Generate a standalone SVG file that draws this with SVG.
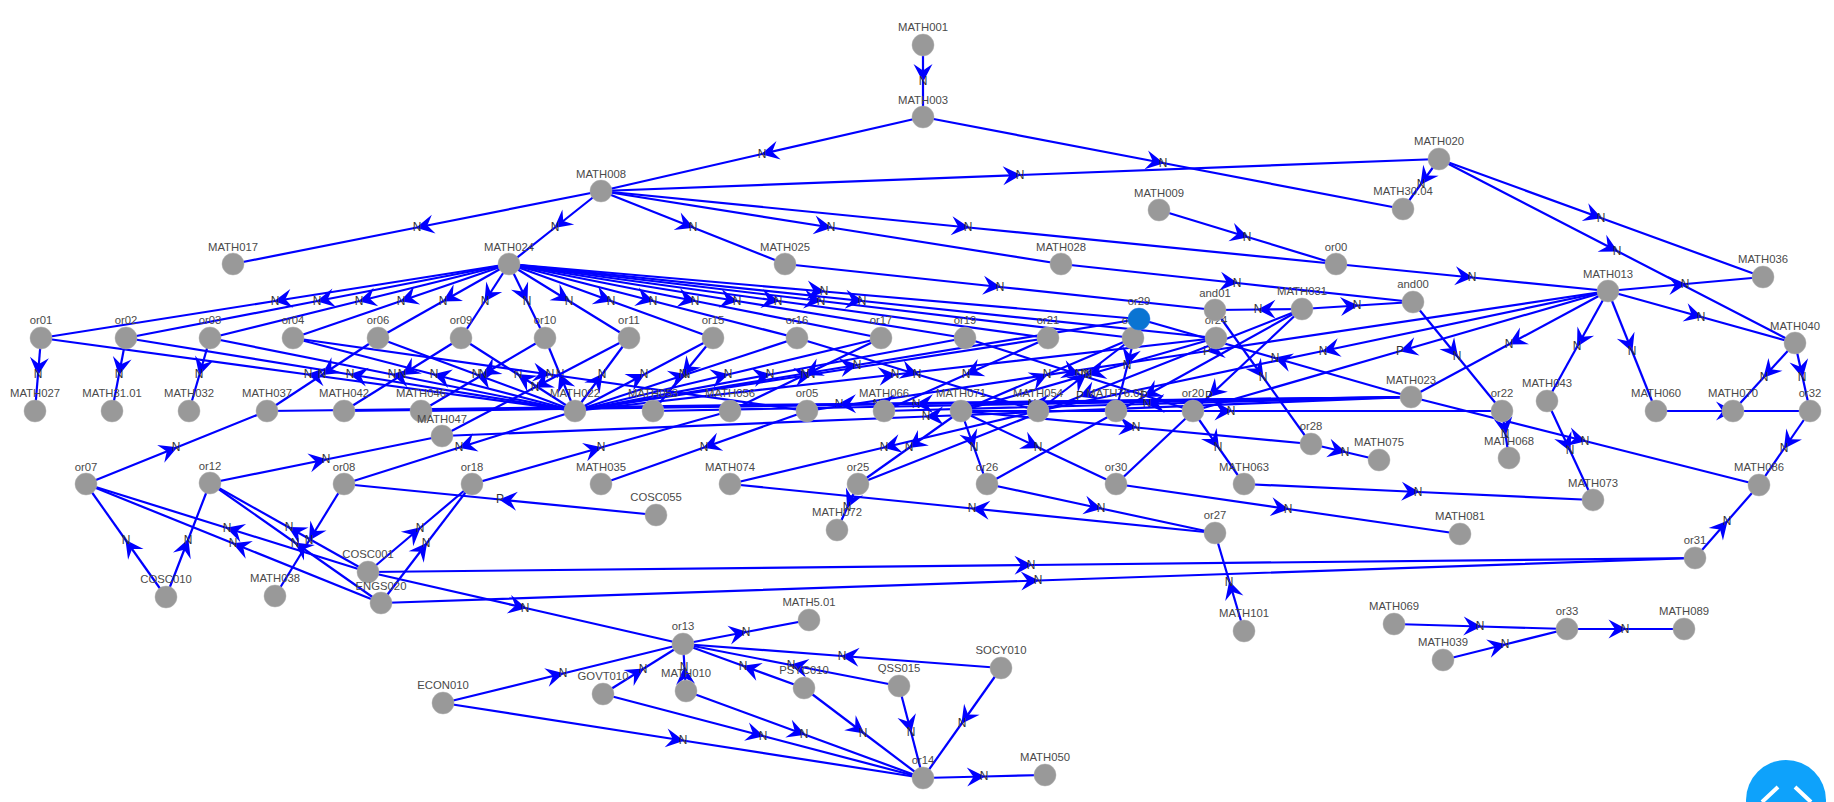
<svg xmlns="http://www.w3.org/2000/svg" width="1834" height="802" viewBox="0 0 1834 802">
<style>
text{font-family:"Liberation Sans",Arial,sans-serif;fill:#4a4a4a;text-anchor:middle}
.t{font-size:11.3px}
.l{font-size:12px;fill:#343434}
circle.n{fill:#999;stroke:#b0b0b0;stroke-width:.5}
polyline{fill:none;stroke:#0000ff;stroke-width:2.2;marker-mid:url(#v)}
</style>
<defs><marker id="v" markerUnits="userSpaceOnUse" markerWidth="24" markerHeight="24" refX="19" refY="11" orient="auto" overflow="visible"><polygon points="20,11 2,1.5 8.5,11 2,20.5" fill="#0000ff"/></marker></defs>
<rect width="1834" height="802" fill="#fff"/>
<g id="connectors">
<polyline points="923,45 923,81 923,117"/><text class="l" x="923" y="85">N</text>
<polyline points="923,117 762,154 601,191"/><text class="l" x="762" y="158">N</text>
<polyline points="923,117 1163,163 1403,209"/><text class="l" x="1163" y="167">N</text>
<polyline points="601,191 1020,175 1439,159"/><text class="l" x="1020" y="179">N</text>
<polyline points="601,191 417,227.5 233,264"/><text class="l" x="417" y="231">N</text>
<polyline points="601,191 555,227.5 509,264"/><text class="l" x="555" y="231">N</text>
<polyline points="601,191 693,227.5 785,264"/><text class="l" x="693" y="231">N</text>
<polyline points="601,191 831,227.5 1061,264"/><text class="l" x="831" y="231">N</text>
<polyline points="601,191 968.5,227.5 1336,264"/><text class="l" x="968" y="231">N</text>
<polyline points="1159,210 1247.5,237 1336,264"/><text class="l" x="1247" y="241">N</text>
<polyline points="1439,159 1421,184 1403,209"/><text class="l" x="1421" y="188">N</text>
<polyline points="1439,159 1617,251 1795,343"/><text class="l" x="1617" y="255">N</text>
<polyline points="1439,159 1601,218 1763,277"/><text class="l" x="1601" y="222">N</text>
<polyline points="785,264 1000,287 1215,310"/><text class="l" x="1000" y="291">N</text>
<polyline points="1061,264 1237,283 1413,302"/><text class="l" x="1237" y="287">N</text>
<polyline points="1336,264 1472,277.5 1608,291"/><text class="l" x="1472" y="281">N</text>
<polyline points="1608,291 1685.5,284 1763,277"/><text class="l" x="1685" y="288">N</text>
<polyline points="1608,291 1701.5,317 1795,343"/><text class="l" x="1701" y="321">N</text>
<polyline points="1608,291 1577.5,346 1547,401"/><text class="l" x="1577" y="350">N</text>
<polyline points="1608,291 1632,351 1656,411"/><text class="l" x="1632" y="355">N</text>
<polyline points="1608,291 1509.5,344 1411,397"/><text class="l" x="1509" y="348">N</text>
<polyline points="1608,291 1400.5,351 1193,411"/><text class="l" x="1400" y="355">P</text>
<polyline points="1608,291 1323,351 1038,411"/><text class="l" x="1323" y="355">N</text>
<polyline points="1608,291 1207.5,351 807,411"/><text class="l" x="1207" y="355">P</text>
<polyline points="509,264 275,301 41,338"/><text class="l" x="275" y="305">N</text>
<polyline points="509,264 317.5,301 126,338"/><text class="l" x="317" y="305">N</text>
<polyline points="509,264 359.5,301 210,338"/><text class="l" x="359" y="305">N</text>
<polyline points="509,264 401,301 293,338"/><text class="l" x="401" y="305">N</text>
<polyline points="509,264 443.5,301 378,338"/><text class="l" x="443" y="305">N</text>
<polyline points="509,264 485,301 461,338"/><text class="l" x="485" y="305">N</text>
<polyline points="509,264 527,301 545,338"/><text class="l" x="527" y="305">N</text>
<polyline points="509,264 569,301 629,338"/><text class="l" x="569" y="305">N</text>
<polyline points="509,264 611,301 713,338"/><text class="l" x="611" y="305">N</text>
<polyline points="509,264 653,301 797,338"/><text class="l" x="653" y="305">N</text>
<polyline points="509,264 695,301 881,338"/><text class="l" x="695" y="305">N</text>
<polyline points="509,264 737,301 965,338"/><text class="l" x="737" y="305">N</text>
<polyline points="509,264 778.5,301 1048,338"/><text class="l" x="778" y="305">N</text>
<polyline points="509,264 821,301 1133,338"/><text class="l" x="821" y="305">N</text>
<polyline points="509,264 862.5,301 1216,338"/><text class="l" x="862" y="305">N</text>
<polyline points="509,264 824,291.5 1139,319"/><text class="l" x="824" y="295">N</text>
<polyline points="41,338 38,374.5 35,411"/><text class="l" x="38" y="378">N</text>
<polyline points="126,338 119,374.5 112,411"/><text class="l" x="119" y="378">N</text>
<polyline points="210,338 199.5,374.5 189,411"/><text class="l" x="199" y="378">N</text>
<polyline points="575,411 308,374.5 41,338"/><text class="l" x="308" y="378">N</text>
<polyline points="575,411 350.5,374.5 126,338"/><text class="l" x="350" y="378">N</text>
<polyline points="575,411 392.5,374.5 210,338"/><text class="l" x="392" y="378">N</text>
<polyline points="575,411 434,374.5 293,338"/><text class="l" x="434" y="378">N</text>
<polyline points="575,411 476.5,374.5 378,338"/><text class="l" x="476" y="378">N</text>
<polyline points="575,411 518,374.5 461,338"/><text class="l" x="518" y="378">N</text>
<polyline points="575,411 560,374.5 545,338"/><text class="l" x="560" y="378">N</text>
<polyline points="575,411 602,374.5 629,338"/><text class="l" x="602" y="378">N</text>
<polyline points="575,411 644,374.5 713,338"/><text class="l" x="644" y="378">N</text>
<polyline points="575,411 686,374.5 797,338"/><text class="l" x="686" y="378">N</text>
<polyline points="575,411 728,374.5 881,338"/><text class="l" x="728" y="378">N</text>
<polyline points="575,411 770,374.5 965,338"/><text class="l" x="770" y="378">N</text>
<polyline points="575,411 811.5,374.5 1048,338"/><text class="l" x="811" y="378">N</text>
<polyline points="575,411 895.5,374.5 1216,338"/><text class="l" x="895" y="378">N</text>
<polyline points="575,411 857,365 1139,319"/><text class="l" x="857" y="369">N</text>
<polyline points="293,338 550,374.5 807,411"/><text class="l" x="550" y="378">N</text>
<polyline points="378,338 322.5,374.5 267,411"/><text class="l" x="322" y="378">N</text>
<polyline points="461,338 402.5,374.5 344,411"/><text class="l" x="402" y="378">N</text>
<polyline points="545,338 483,374.5 421,411"/><text class="l" x="483" y="378">N</text>
<polyline points="629,338 535.5,387 442,436"/><text class="l" x="535" y="391">N</text>
<polyline points="713,338 683,374.5 653,411"/><text class="l" x="683" y="378">N</text>
<polyline points="797,338 917.5,374.5 1038,411"/><text class="l" x="917" y="378">N</text>
<polyline points="881,338 805.5,374.5 730,411"/><text class="l" x="805" y="378">N</text>
<polyline points="965,338 1079,374.5 1193,411"/><text class="l" x="1079" y="378">N</text>
<polyline points="1048,338 966,374.5 884,411"/><text class="l" x="966" y="378">N</text>
<polyline points="961,411 1047,374.5 1133,338"/><text class="l" x="1047" y="378">N</text>
<polyline points="1038,411 1085.5,374.5 1133,338"/><text class="l" x="1085" y="378">N</text>
<polyline points="1216,338 1088.5,374.5 961,411"/><text class="l" x="1088" y="378">N</text>
<polyline points="1139,319 1127.5,365 1116,411"/><text class="l" x="1127" y="369">N</text>
<polyline points="1411,397 1275,358 1139,319"/><text class="l" x="1275" y="362">N</text>
<polyline points="1302,309 1258.5,309.5 1215,310"/><text class="l" x="1258" y="313">N</text>
<polyline points="1302,309 1357.5,305.5 1413,302"/><text class="l" x="1357" y="309">N</text>
<polyline points="1413,302 1457.5,356.5 1502,411"/><text class="l" x="1457" y="360">N</text>
<polyline points="1215,310 1263,377 1311,444"/><text class="l" x="1263" y="381">N</text>
<polyline points="1311,444 1345,452 1379,460"/><text class="l" x="1345" y="456">N</text>
<polyline points="1502,411 1505.5,434.5 1509,458"/><text class="l" x="1505" y="438">N</text>
<polyline points="1547,401 1570,450.5 1593,500"/><text class="l" x="1570" y="454">N</text>
<polyline points="1411,397 1585,441 1759,485"/><text class="l" x="1585" y="445">N</text>
<polyline points="1795,343 1764,377 1733,411"/><text class="l" x="1764" y="381">N</text>
<polyline points="1795,343 1802.5,377 1810,411"/><text class="l" x="1802" y="381">N</text>
<polyline points="1810,411 1784.5,448 1759,485"/><text class="l" x="1784" y="452">N</text>
<polyline points="1656,411 1733,411 1810,411"/><text class="l" x="1733" y="415">N</text>
<polyline points="1695,558 1727,521.5 1759,485"/><text class="l" x="1727" y="525">N</text>
<polyline points="368,572 1031.5,565 1695,558"/><text class="l" x="1031" y="569">N</text>
<polyline points="381,603 1038,580.5 1695,558"/><text class="l" x="1038" y="584">N</text>
<polyline points="1244,484 1418.5,492 1593,500"/><text class="l" x="1418" y="496">N</text>
<polyline points="1116,484 1288,509 1460,534"/><text class="l" x="1288" y="513">N</text>
<polyline points="1244,631 1229.5,582 1215,533"/><text class="l" x="1229" y="586">N</text>
<polyline points="1394,624 1480.5,626.5 1567,629"/><text class="l" x="1480" y="630">N</text>
<polyline points="1443,660 1505,644.5 1567,629"/><text class="l" x="1505" y="648">N</text>
<polyline points="1567,629 1625.5,629 1684,629"/><text class="l" x="1625" y="633">N</text>
<polyline points="987,484 1101,508.5 1215,533"/><text class="l" x="1101" y="512">N</text>
<polyline points="1215,533 972.5,508.5 730,484"/><text class="l" x="972" y="512">N</text>
<polyline points="858,484 847.5,507 837,530"/><text class="l" x="847" y="511">N</text>
<polyline points="1302,309 1209,396.5 1116,484"/><text class="l" x="1209" y="400">P</text>
<polyline points="1302,309 1080,396.5 858,484"/><text class="l" x="1080" y="400">P</text>
<polyline points="1302,309 1144.5,396.5 987,484"/><text class="l" x="1144" y="400">P</text>
<polyline points="961,411 909.5,447.5 858,484"/><text class="l" x="909" y="451">N</text>
<polyline points="1038,411 884,447.5 730,484"/><text class="l" x="884" y="451">N</text>
<polyline points="961,411 974,447.5 987,484"/><text class="l" x="974" y="451">N</text>
<polyline points="961,411 1038.5,447.5 1116,484"/><text class="l" x="1038" y="451">N</text>
<polyline points="961,411 1136,427.5 1311,444"/><text class="l" x="1136" y="431">N</text>
<polyline points="961,411 1231.5,411 1502,411"/><text class="l" x="1231" y="415">N</text>
<polyline points="1411,397 839,404 267,411"/><text class="l" x="839" y="408">N</text>
<polyline points="1411,397 877.5,404 344,411"/><text class="l" x="877" y="408">N</text>
<polyline points="1411,397 916,404 421,411"/><text class="l" x="916" y="408">N</text>
<polyline points="1411,397 1032,404 653,411"/><text class="l" x="1032" y="408">N</text>
<polyline points="1411,397 1147.5,404 884,411"/><text class="l" x="1147" y="408">N</text>
<polyline points="1411,397 926.5,416.5 442,436"/><text class="l" x="926" y="420">N</text>
<polyline points="1193,411 1218.5,447.5 1244,484"/><text class="l" x="1218" y="451">N</text>
<polyline points="472,484 601,447.5 730,411"/><text class="l" x="601" y="451">N</text>
<polyline points="807,411 704,447.5 601,484"/><text class="l" x="704" y="451">N</text>
<polyline points="210,483 326,459.5 442,436"/><text class="l" x="326" y="463">N</text>
<polyline points="575,411 459.5,447.5 344,484"/><text class="l" x="459" y="451">N</text>
<polyline points="86,484 176.5,447.5 267,411"/><text class="l" x="176" y="451">N</text>
<polyline points="166,597 126,540.5 86,484"/><text class="l" x="126" y="544">N</text>
<polyline points="166,597 188,540 210,483"/><text class="l" x="188" y="544">N</text>
<polyline points="368,572 227,528 86,484"/><text class="l" x="227" y="532">N</text>
<polyline points="381,603 233.5,543.5 86,484"/><text class="l" x="233" y="547">N</text>
<polyline points="368,572 289,527.5 210,483"/><text class="l" x="289" y="531">N</text>
<polyline points="381,603 295.5,543 210,483"/><text class="l" x="295" y="547">N</text>
<polyline points="344,484 309.5,540 275,596"/><text class="l" x="309" y="544">N</text>
<polyline points="368,572 420,528 472,484"/><text class="l" x="420" y="532">N</text>
<polyline points="381,603 426.5,543.5 472,484"/><text class="l" x="426" y="547">N</text>
<polyline points="656,515 500,499.5 344,484"/><text class="l" x="500" y="503">P</text>
<polyline points="368,572 525.5,608 683,644"/><text class="l" x="525" y="612">N</text>
<polyline points="443,703 563,673.5 683,644"/><text class="l" x="563" y="677">N</text>
<polyline points="443,703 683,740.5 923,778"/><text class="l" x="683" y="744">N</text>
<polyline points="603,694 643,669 683,644"/><text class="l" x="643" y="673">N</text>
<polyline points="603,694 763,736 923,778"/><text class="l" x="763" y="740">N</text>
<polyline points="686,691 684.5,667.5 683,644"/><text class="l" x="684" y="671">N</text>
<polyline points="686,691 804.5,734.5 923,778"/><text class="l" x="804" y="738">N</text>
<polyline points="804,688 743.5,666 683,644"/><text class="l" x="743" y="670">N</text>
<polyline points="804,688 863.5,733 923,778"/><text class="l" x="863" y="737">N</text>
<polyline points="899,686 791,665 683,644"/><text class="l" x="791" y="669">N</text>
<polyline points="899,686 911,732 923,778"/><text class="l" x="911" y="736">N</text>
<polyline points="1001,668 842,656 683,644"/><text class="l" x="842" y="660">N</text>
<polyline points="1001,668 962,723 923,778"/><text class="l" x="962" y="727">N</text>
<polyline points="923,778 984,776.5 1045,775"/><text class="l" x="984" y="780">N</text>
<polyline points="683,644 746,632 809,620"/><text class="l" x="746" y="636">N</text>
</g>
<g id="nodes">
<g id="MATH001"><circle class="n" cx="923" cy="45" r="11"/><text class="t" x="923" y="31">MATH001</text></g>
<g id="MATH003"><circle class="n" cx="923" cy="117" r="11"/><text class="t" x="923" y="104">MATH003</text></g>
<g id="MATH008"><circle class="n" cx="601" cy="191" r="11"/><text class="t" x="601" y="178">MATH008</text></g>
<g id="MATH020"><circle class="n" cx="1439" cy="159" r="11"/><text class="t" x="1439" y="145">MATH020</text></g>
<g id="MATH30.04"><circle class="n" cx="1403" cy="209" r="11"/><text class="t" x="1403" y="195">MATH30.04</text></g>
<g id="MATH009"><circle class="n" cx="1159" cy="210" r="11"/><text class="t" x="1159" y="197">MATH009</text></g>
<g id="MATH017"><circle class="n" cx="233" cy="264" r="11"/><text class="t" x="233" y="251">MATH017</text></g>
<g id="MATH024"><circle class="n" cx="509" cy="264" r="11"/><text class="t" x="509" y="251">MATH024</text></g>
<g id="MATH025"><circle class="n" cx="785" cy="264" r="11"/><text class="t" x="785" y="251">MATH025</text></g>
<g id="MATH028"><circle class="n" cx="1061" cy="264" r="11"/><text class="t" x="1061" y="251">MATH028</text></g>
<g id="or00"><circle class="n" cx="1336" cy="264" r="11"/><text class="t" x="1336" y="251">or00</text></g>
<g id="MATH013"><circle class="n" cx="1608" cy="291" r="11"/><text class="t" x="1608" y="278">MATH013</text></g>
<g id="MATH036"><circle class="n" cx="1763" cy="277" r="11"/><text class="t" x="1763" y="263">MATH036</text></g>
<g id="MATH040"><circle class="n" cx="1795" cy="343" r="11"/><text class="t" x="1795" y="330">MATH040</text></g>
<g id="and00"><circle class="n" cx="1413" cy="302" r="11"/><text class="t" x="1413" y="288">and00</text></g>
<g id="MATH031"><circle class="n" cx="1302" cy="309" r="11"/><text class="t" x="1302" y="295">MATH031</text></g>
<g id="or01"><circle class="n" cx="41" cy="338" r="11"/><text class="t" x="41" y="324">or01</text></g>
<g id="or02"><circle class="n" cx="126" cy="338" r="11"/><text class="t" x="126" y="324">or02</text></g>
<g id="or03"><circle class="n" cx="210" cy="338" r="11"/><text class="t" x="210" y="324">or03</text></g>
<g id="or04"><circle class="n" cx="293" cy="338" r="11"/><text class="t" x="293" y="324">or04</text></g>
<g id="or06"><circle class="n" cx="378" cy="338" r="11"/><text class="t" x="378" y="324">or06</text></g>
<g id="or09"><circle class="n" cx="461" cy="338" r="11"/><text class="t" x="461" y="324">or09</text></g>
<g id="or10"><circle class="n" cx="545" cy="338" r="11"/><text class="t" x="545" y="324">or10</text></g>
<g id="or11"><circle class="n" cx="629" cy="338" r="11"/><text class="t" x="629" y="324">or11</text></g>
<g id="or15"><circle class="n" cx="713" cy="338" r="11"/><text class="t" x="713" y="324">or15</text></g>
<g id="or16"><circle class="n" cx="797" cy="338" r="11"/><text class="t" x="797" y="324">or16</text></g>
<g id="or17"><circle class="n" cx="881" cy="338" r="11"/><text class="t" x="881" y="324">or17</text></g>
<g id="or19"><circle class="n" cx="965" cy="338" r="11"/><text class="t" x="965" y="324">or19</text></g>
<g id="or21"><circle class="n" cx="1048" cy="338" r="11"/><text class="t" x="1048" y="324">or21</text></g>
<g id="or23"><circle class="n" cx="1133" cy="338" r="11"/><text class="t" x="1133" y="324">or23</text></g>
<g id="or24"><circle class="n" cx="1216" cy="338" r="11"/><text class="t" x="1216" y="324">or24</text></g>
<g id="or29"><circle cx="1139" cy="319" r="11" fill="#0a74d2" stroke="#2b7ce9" stroke-width=".5"/><text class="t" x="1139" y="305">or29</text></g>
<g id="and01"><circle class="n" cx="1215" cy="310" r="11"/><text class="t" x="1215" y="297">and01</text></g>
<g id="MATH027"><circle class="n" cx="35" cy="411" r="11"/><text class="t" x="35" y="397">MATH027</text></g>
<g id="MATH31.01"><circle class="n" cx="112" cy="411" r="11"/><text class="t" x="112" y="397">MATH31.01</text></g>
<g id="MATH032"><circle class="n" cx="189" cy="411" r="11"/><text class="t" x="189" y="397">MATH032</text></g>
<g id="MATH037"><circle class="n" cx="267" cy="411" r="11"/><text class="t" x="267" y="397">MATH037</text></g>
<g id="MATH042"><circle class="n" cx="344" cy="411" r="11"/><text class="t" x="344" y="397">MATH042</text></g>
<g id="MATH046"><circle class="n" cx="421" cy="411" r="11"/><text class="t" x="421" y="397">MATH046</text></g>
<g id="MATH022"><circle class="n" cx="575" cy="411" r="11"/><text class="t" x="575" y="397">MATH022</text></g>
<g id="MATH053"><circle class="n" cx="653" cy="411" r="11"/><text class="t" x="653" y="397">MATH053</text></g>
<g id="MATH056"><circle class="n" cx="730" cy="411" r="11"/><text class="t" x="730" y="397">MATH056</text></g>
<g id="or05"><circle class="n" cx="807" cy="411" r="11"/><text class="t" x="807" y="397">or05</text></g>
<g id="MATH066"><circle class="n" cx="884" cy="411" r="11"/><text class="t" x="884" y="397">MATH066</text></g>
<g id="MATH071"><circle class="n" cx="961" cy="411" r="11"/><text class="t" x="961" y="397">MATH071</text></g>
<g id="MATH054"><circle class="n" cx="1038" cy="411" r="11"/><text class="t" x="1038" y="397">MATH054</text></g>
<g id="MATH76.01"><circle class="n" cx="1116" cy="411" r="11"/><text class="t" x="1116" y="397">MATH76.01</text></g>
<g id="or20"><circle class="n" cx="1193" cy="411" r="11"/><text class="t" x="1193" y="397">or20</text></g>
<g id="MATH023"><circle class="n" cx="1411" cy="397" r="11"/><text class="t" x="1411" y="384">MATH023</text></g>
<g id="or22"><circle class="n" cx="1502" cy="411" r="11"/><text class="t" x="1502" y="397">or22</text></g>
<g id="MATH043"><circle class="n" cx="1547" cy="401" r="11"/><text class="t" x="1547" y="387">MATH043</text></g>
<g id="MATH060"><circle class="n" cx="1656" cy="411" r="11"/><text class="t" x="1656" y="397">MATH060</text></g>
<g id="MATH070"><circle class="n" cx="1733" cy="411" r="11"/><text class="t" x="1733" y="397">MATH070</text></g>
<g id="or32"><circle class="n" cx="1810" cy="411" r="11"/><text class="t" x="1810" y="397">or32</text></g>
<g id="MATH047"><circle class="n" cx="442" cy="436" r="11"/><text class="t" x="442" y="423">MATH047</text></g>
<g id="or28"><circle class="n" cx="1311" cy="444" r="11"/><text class="t" x="1311" y="430">or28</text></g>
<g id="MATH075"><circle class="n" cx="1379" cy="460" r="11"/><text class="t" x="1379" y="446">MATH075</text></g>
<g id="MATH068"><circle class="n" cx="1509" cy="458" r="11"/><text class="t" x="1509" y="445">MATH068</text></g>
<g id="or07"><circle class="n" cx="86" cy="484" r="11"/><text class="t" x="86" y="471">or07</text></g>
<g id="or12"><circle class="n" cx="210" cy="483" r="11"/><text class="t" x="210" y="470">or12</text></g>
<g id="or08"><circle class="n" cx="344" cy="484" r="11"/><text class="t" x="344" y="471">or08</text></g>
<g id="or18"><circle class="n" cx="472" cy="484" r="11"/><text class="t" x="472" y="471">or18</text></g>
<g id="MATH035"><circle class="n" cx="601" cy="484" r="11"/><text class="t" x="601" y="471">MATH035</text></g>
<g id="MATH074"><circle class="n" cx="730" cy="484" r="11"/><text class="t" x="730" y="471">MATH074</text></g>
<g id="or25"><circle class="n" cx="858" cy="484" r="11"/><text class="t" x="858" y="471">or25</text></g>
<g id="or26"><circle class="n" cx="987" cy="484" r="11"/><text class="t" x="987" y="471">or26</text></g>
<g id="or30"><circle class="n" cx="1116" cy="484" r="11"/><text class="t" x="1116" y="471">or30</text></g>
<g id="MATH063"><circle class="n" cx="1244" cy="484" r="11"/><text class="t" x="1244" y="471">MATH063</text></g>
<g id="MATH086"><circle class="n" cx="1759" cy="485" r="11"/><text class="t" x="1759" y="471">MATH086</text></g>
<g id="MATH073"><circle class="n" cx="1593" cy="500" r="11"/><text class="t" x="1593" y="487">MATH073</text></g>
<g id="COSC055"><circle class="n" cx="656" cy="515" r="11"/><text class="t" x="656" y="501">COSC055</text></g>
<g id="MATH072"><circle class="n" cx="837" cy="530" r="11"/><text class="t" x="837" y="516">MATH072</text></g>
<g id="or27"><circle class="n" cx="1215" cy="533" r="11"/><text class="t" x="1215" y="519">or27</text></g>
<g id="MATH081"><circle class="n" cx="1460" cy="534" r="11"/><text class="t" x="1460" y="520">MATH081</text></g>
<g id="or31"><circle class="n" cx="1695" cy="558" r="11"/><text class="t" x="1695" y="544">or31</text></g>
<g id="COSC001"><circle class="n" cx="368" cy="572" r="11"/><text class="t" x="368" y="558">COSC001</text></g>
<g id="COSC010"><circle class="n" cx="166" cy="597" r="11"/><text class="t" x="166" y="583">COSC010</text></g>
<g id="MATH038"><circle class="n" cx="275" cy="596" r="11"/><text class="t" x="275" y="582">MATH038</text></g>
<g id="ENGS020"><circle class="n" cx="381" cy="603" r="11"/><text class="t" x="381" y="590">ENGS020</text></g>
<g id="MATH5.01"><circle class="n" cx="809" cy="620" r="11"/><text class="t" x="809" y="606">MATH5.01</text></g>
<g id="MATH101"><circle class="n" cx="1244" cy="631" r="11"/><text class="t" x="1244" y="617">MATH101</text></g>
<g id="MATH069"><circle class="n" cx="1394" cy="624" r="11"/><text class="t" x="1394" y="610">MATH069</text></g>
<g id="or33"><circle class="n" cx="1567" cy="629" r="11"/><text class="t" x="1567" y="615">or33</text></g>
<g id="MATH089"><circle class="n" cx="1684" cy="629" r="11"/><text class="t" x="1684" y="615">MATH089</text></g>
<g id="MATH039"><circle class="n" cx="1443" cy="660" r="11"/><text class="t" x="1443" y="646">MATH039</text></g>
<g id="or13"><circle class="n" cx="683" cy="644" r="11"/><text class="t" x="683" y="630">or13</text></g>
<g id="SOCY010"><circle class="n" cx="1001" cy="668" r="11"/><text class="t" x="1001" y="654">SOCY010</text></g>
<g id="QSS015"><circle class="n" cx="899" cy="686" r="11"/><text class="t" x="899" y="672">QSS015</text></g>
<g id="PSYC010"><circle class="n" cx="804" cy="688" r="11"/><text class="t" x="804" y="674">PSYC010</text></g>
<g id="MATH010"><circle class="n" cx="686" cy="691" r="11"/><text class="t" x="686" y="677">MATH010</text></g>
<g id="GOVT010"><circle class="n" cx="603" cy="694" r="11"/><text class="t" x="603" y="680">GOVT010</text></g>
<g id="ECON010"><circle class="n" cx="443" cy="703" r="11"/><text class="t" x="443" y="689">ECON010</text></g>
<g id="or14"><circle class="n" cx="923" cy="778" r="11"/><text class="t" x="923" y="764">or14</text></g>
<g id="MATH050"><circle class="n" cx="1045" cy="775" r="11"/><text class="t" x="1045" y="761">MATH050</text></g>
</g>
<circle cx="1786" cy="800" r="40" fill="#0ea2fb"/>
<path d="M1778 787L1762 802M1795 787L1811 802" fill="none" stroke="#fff" stroke-width="4"/>
</svg>
